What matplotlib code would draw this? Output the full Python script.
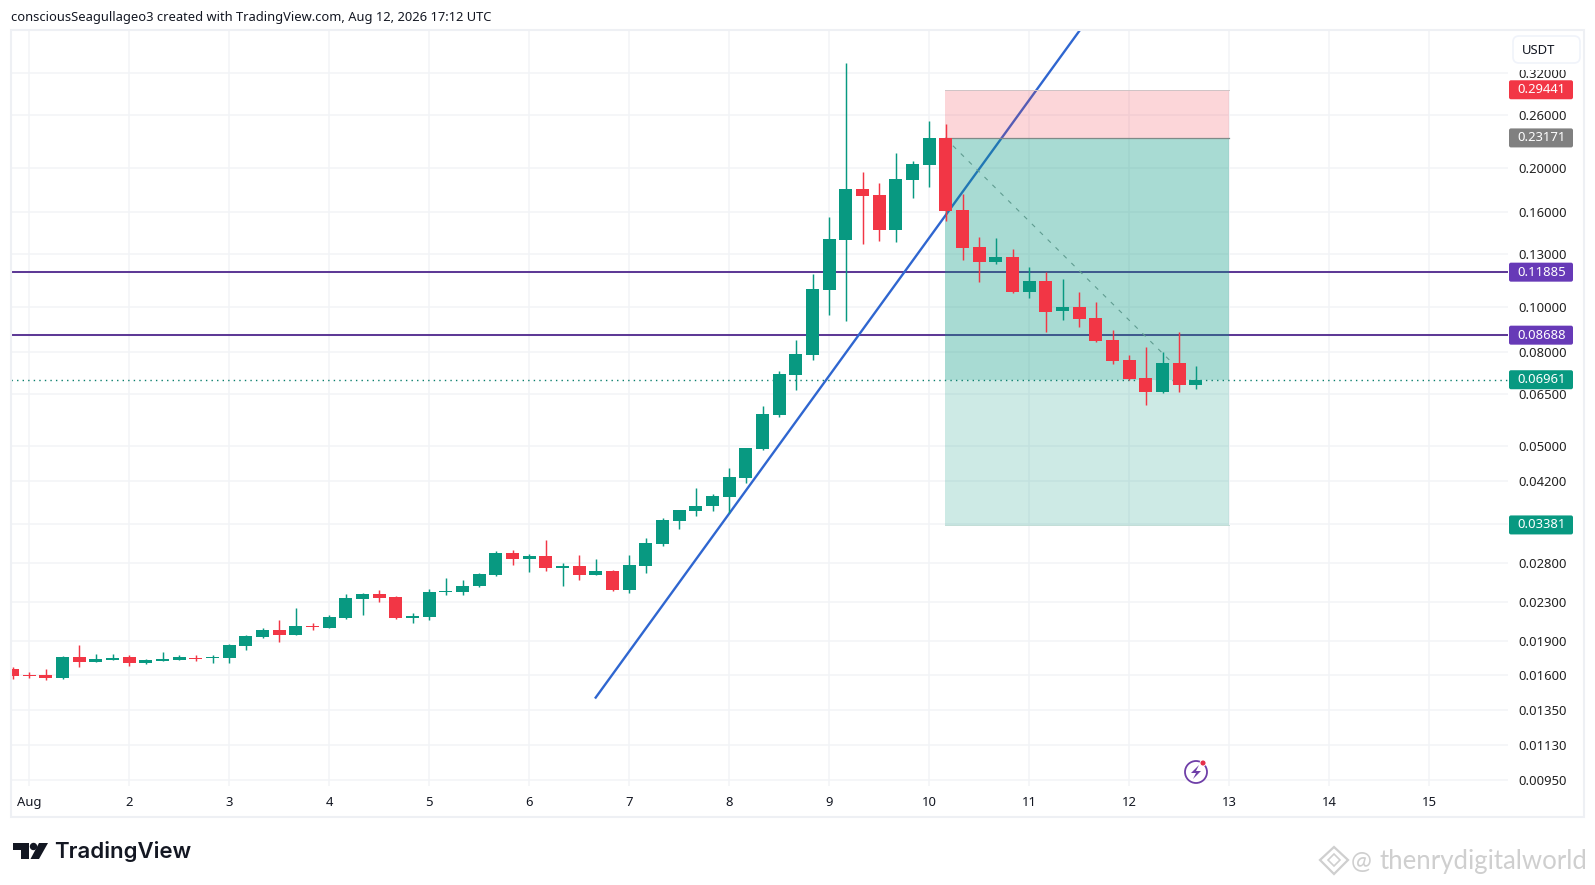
# TradingView style candlestick chart, USDT pair, 4h candles

import numpy as np
import matplotlib
matplotlib.use('Agg')
import matplotlib.pyplot as plt
from matplotlib.patches import Rectangle, FancyBboxPatch, Polygon, Circle
from matplotlib.ticker import NullLocator

plt.rcParams['font.family'] = ['Noto Sans', 'DejaVu Sans']

# candles, first one is the clipped candle before Aug 1
opens = [.01655, .01606, .01606, .01582, .01757, .01713, .01730, .01757, .01704, .01721,
         .01730, .01748, .01748, .01748, .01855, .01941, .02009, .01960, .02050, .02029,
         .02133, .02334, .02393, .02358, .02133, .02144, .02417, .02417, .02490, .02631,
         .02936, .02849, .02892, .02724, .02752, .02631, .02684, .02441, .02752, .03071,
         .03455, .03632, .03723, .03876, .04261, .04925, .05837, .07128, .07876, .1090,
         .1392, .1796, .1742, .1464, .1879, .2025, .2317, .1617, .1344, .1247,
         .1279, .1079, .1140, .09812, .1001, .09475, .08489, .07682, .07021, .06548,
         .07568, .06780]
highs = [.01671, .01630, .01655, .01765, .01865, .01783, .01783, .01774, .01739, .01801,
         .01774, .01774, .01774, .01874, .01960, .02029, .02112, .02242, .02081, .02165,
         .02393, .02405, .02441, .02369, .02187, .02453, .02592, .02566, .02657, .02965,
         .02980, .02921, .03133, .02793, .02907, .02849, .02697, .02907, .03165, .03507,
         .03650, .04053, .03934, .04480, .04950, .06104, .07272, .08489, .1180, .1562,
         .3368, .1956, .1851, .2150, .2065, .2523, .2485, .1752, .1413, .1406,
         .1331, .1222, .1192, .1146, .1079, .1027, .08924, .07876, .08197, .07995,
         .08835, .07454]
lows = [.01574, .01582, .01566, .01574, .01671, .01713, .01730, .01679, .01696, .01721,
        .01730, .01721, .01704, .01704, .01819, .01931, .01893, .01960, .02009, .02029,
        .02123, .02165, .02310, .02123, .02081, .02112, .02381, .02381, .02478, .02618,
        .02765, .02670, .02684, .02490, .02566, .02631, .02429, .02405, .02657, .03041,
        .03320, .03543, .03632, .03579, .04156, .04901, .05779, .06613, .07682, .09618,
        .09334, .1365, .1385, .1378, .1717, .1814, .1531, .1260, .1129, .1235,
        .1074, .1047, .08835, .09381, .09060, .08405, .07530, .06951, .06136, .06516,
        .06548, .06646]
closes = [.01598, .01598, .01582, .01757, .01713, .01739, .01748, .01704, .01730, .01739,
          .01757, .01739, .01757, .01865, .01950, .02009, .01960, .02050, .02040, .02144,
          .02346, .02393, .02346, .02133, .02155, .02417, .02429, .02490, .02644, .02936,
          .02849, .02892, .02724, .02752, .02631, .02684, .02441, .02765, .03086, .03472,
          .03650, .03723, .03895, .04283, .04950, .05866, .07164, .07916, .1095, .1399,
          .1796, .1734, .1464, .1888, .2035, .2317, .1609, .1338, .1247, .1279,
          .1079, .1140, .09763, .1001, .09428, .08447, .07644, .06986, .06548, .07568,
          .06780, .06961]

# price scale
price_ticks = [0.32, 0.26, 0.20, 0.16, 0.13, 0.10, 0.08, 0.065, 0.05, 0.042,
               0.034, 0.028, 0.023, 0.019, 0.016, 0.0135, 0.0113, 0.0095]
price_labels = ['0.32000', '0.26000', '0.20000', '0.16000', '0.13000', '0.10000', '0.08000',
                '0.06500', '0.05000', '0.04200', '0.03400', '0.02800', '0.02300', '0.01900',
                '0.01600', '0.01350', '0.01130', '0.00950']
day_ticks = list(range(1, 16))
day_labels = ['Aug'] + [str(d) for d in range(2, 16)]

# drawings
level_high = 0.11885
level_low = 0.08688
last_price = 0.06961
stop_price = 0.29441
entry_price = 0.23171
target_price = 0.03381
box_days = [10.157, 13.0]
trend_days = [6.657, 11.507]
trend_prices = [0.01426, 0.3963]
diagonal_days = [10.157, 12.6]
diagonal_prices = [0.23171, 0.06961]

tag_prices = [0.29441, 0.23171, 0.11885, 0.08688, 0.06961, 0.03381]
tag_texts = ['0.29441', '0.23171', '0.11885', '0.08688', '0.06961', '0.03381']
tag_colors = ['#f23645', '#808080', '#673ab7', '#673ab7', '#089981', '#089981']

GREEN = '#089981'
RED = '#f23645'
GRID = '#f2f4f7'
W, H = 1595, 885

fig = plt.figure(figsize=(W / 100, H / 100), dpi=100, facecolor='white')
ax = fig.add_axes([11 / W, 1 - 786 / H, (1508 - 11) / W, (786 - 30) / H])
ax.set_yscale('log')
ax.set_xlim(0.817, 15.787)
ax.set_ylim(0.00923, 0.3963)

# grid
ax.set_yticks(price_ticks, price_labels)
ax.yaxis.set_minor_locator(NullLocator())
ax.set_xticks(day_ticks, day_labels)
ax.yaxis.tick_right()
ax.tick_params(axis='y', length=0, pad=7.5, labelsize=9.4, labelcolor='#222222')
ax.tick_params(axis='x', length=0, pad=7, labelsize=9.4, labelcolor='#131722')
ax.grid(True, color=GRID, lw=1.1, zorder=0)
ax.set_axisbelow(True)
for s in ax.spines.values():
    s.set_visible(False)

# level lines and trend line go under the position box
ax.axhline(level_high, color='#5e3a96', lw=1.45, zorder=1)
ax.axhline(level_low, color='#5e3a96', lw=1.45, zorder=1)
ax.plot(trend_days, trend_prices, color='#2f66d0', lw=1.7, zorder=1, solid_capstyle='butt')

# position box
ax.fill_between(box_days, entry_price, stop_price, color=RED, alpha=0.2, lw=0, zorder=2)
ax.fill_between(box_days, last_price, entry_price, color=GREEN, alpha=0.35, lw=0, zorder=2)
ax.fill_between(box_days, target_price, last_price, color=GREEN, alpha=0.2, lw=0, zorder=2)
ax.plot(box_days, [entry_price, entry_price], color='#7f8a88', lw=0.9, zorder=2)
ax.plot(box_days, [stop_price, stop_price], color='#cfc4c6', lw=0.7, zorder=2)
ax.plot(box_days, [target_price, target_price], color='#c2ddd6', lw=0.7, zorder=2)
ax.plot(diagonal_days, diagonal_prices, color='#5f9c90', lw=0.8, ls=(0, (4, 6)), zorder=2)

# last price dotted line
ax.axhline(last_price, color='#0a7f6d', lw=1, ls=(0, (1, 3)), zorder=2.5)

# candles
days = 1 + (np.arange(len(closes)) - 1) / 6
opens_a = np.array(opens)
closes_a = np.array(closes)
colors = [GREEN if c >= o else RED for o, c in zip(opens, closes)]
ax.vlines(days, lows, highs, colors=colors, lw=1.05, zorder=3)
ax.bar(days, np.abs(closes_a - opens_a), bottom=np.minimum(opens_a, closes_a), width=0.13,
       color=colors, lw=0, zorder=3.5)

# second layer in pixels for everything outside the scales
over = fig.add_axes([0, 0, 1, 1], facecolor='none')
over.set_xlim(0, W)
over.set_ylim(H, 0)
over.axis('off')

over.add_patch(Rectangle((11, 30), 1573, 787, fc='none', ec='#eef0f4', lw=1.5))
# the USDT button cuts the top of the first price label
over.add_patch(Rectangle((1510, 60), 72, 9.5, fc='white', ec='none'))
over.add_patch(FancyBboxPatch((1513, 36), 67, 27, boxstyle='round,pad=0,rounding_size=6',
                              fc='white', ec='#f0f3fa', lw=1.2))
over.text(1539, 50, 'USDT', ha='center', va='center', fontsize=9.4, color='#131722')

# price tags, y comes from the price scale
for price, txt, col in zip(tag_prices, tag_texts, tag_colors):
    y_disp = ax.transData.transform((1, price))[1]
    y = H - y_disp
    over.add_patch(FancyBboxPatch((1509, y - 9.5), 64, 19, boxstyle='round,pad=0,rounding_size=2',
                                  fc=col, ec='none'))
    over.text(1541.5, y, txt, ha='center', va='center', fontsize=9.4, color='white')

# header
over.text(11, 17, 'consciousSeagullageo3 created with TradingView.com, Aug 12, 2026 17:12 UTC',
          ha='left', va='center', fontsize=9.3, color='#131722')

# TradingView logo
logo = '#131722'
over.add_patch(Polygon([(13, 843), (29, 843), (29, 859), (21, 859), (21, 850), (13, 850)], fc=logo, ec='none'))
over.add_patch(Circle((33.5, 846.5), 3.7, fc=logo, ec='none'))
over.add_patch(Polygon([(39, 843), (48, 843), (39, 859), (30.5, 859)], fc=logo, ec='none'))
over.text(54, 851, 'TradingView', ha='left', va='center', fontsize=16, fontweight='semibold',
          family=['Inter', 'DejaVu Sans'], color=logo)

# lightning icon
over.add_patch(Circle((1196, 772), 11, fc='white', ec='#6f3fa8', lw=1.3))
over.add_patch(Polygon([(1199, 765), (1191, 773), (1196, 773), (1193, 779), (1201, 771), (1196, 771)],
                       fc='#6f3fa8', ec='none'))
over.add_patch(Circle((1203, 763), 3, fc='#e5304a', ec='white', lw=0.6))

# watermark
wm = '#cfcfcf'
over.add_patch(Polygon([(1334, 847), (1348, 860), (1334, 874), (1320, 860)], fc='none', ec=wm, lw=1.6))
over.add_patch(Polygon([(1334, 854), (1340, 860), (1334, 866), (1328, 860)], fc='none', ec=wm, lw=1.2))
over.text(1351, 861, '@', ha='left', va='center', fontsize=18, family=['Lato', 'DejaVu Sans'], color=wm)
over.text(1379, 861, 'thenrydigitalworld', ha='left', va='center', fontsize=18.5,
          family=['Lato', 'DejaVu Sans'], color=wm)

fig.savefig('out.png', dpi=100)
